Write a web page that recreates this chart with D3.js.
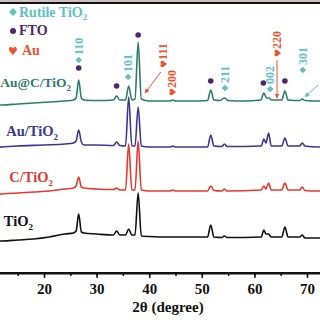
<!DOCTYPE html>
<html>
<head>
<meta charset="utf-8">
<script src="https://cdn.jsdelivr.net/npm/d3@7"></script>
<style>
  html, body { margin: 0; padding: 0; background: #fff; overflow: hidden; }
  svg { display: block; }
</style>
</head>
<body>
<svg id="chart" width="320" height="320"></svg>
<script>
// XRD patterns, [2theta, intensity a.u. above each pattern's own baseline]
const auCTiO2 = [[10,-4],[12,-4],[15,-3],[18,-2],[21,-1],[24,0],[25.6,1],[26.1,3],[26.6,21],[27.1,3],[27.6,1],[30,0.5],[33.2,1],[33.8,5],[34.4,1],[35.5,1],[36.1,15],[36.7,1],[37.3,2],[37.9,59],[38.5,2],[40,0],[44,0],[44.4,1],[45,0],[48,0],[51.1,0.5],[51.7,11],[52.3,1],[53.5,0.5],[54.3,3],[55,0.5],[58,0],[61.2,1],[61.8,8],[62.3,3],[62.7,3],[63.3,1],[65.2,1],[65.8,10],[66.4,1],[68.6,0.5],[69.1,2],[69.6,0.5],[72,0],[80,0]];
const auTiO2 = [[10,-1],[12,0],[15,1],[20,2],[24,3],[25.6,4],[26.1,6],[26.6,17],[27.1,5],[27.6,2],[30,2],[33.2,1.5],[33.8,5],[34.4,1.5],[35.5,1],[36.1,50],[36.7,1],[37.3,1],[37.9,40],[38.5,1],[40,0],[44,0],[44.4,1],[45,0],[51.1,0],[51.7,12],[52.3,1],[53.8,0.5],[54.3,3],[54.8,0.5],[61.3,1],[61.8,8],[62.2,4],[62.7,14],[63.2,1],[65.2,1],[65.8,9],[66.4,1],[68.6,1],[69.1,4],[69.6,1],[72,0],[80,0]];
const cTiO2 = [[10,-4],[12,-3],[15,-2],[18,-1],[21,0],[24,2],[25.6,3],[26.1,5],[26.6,14],[27.1,4],[27.6,3],[30,2],[33.2,1.5],[33.8,3],[34.4,1],[35.5,1],[36.1,47],[36.7,1],[37.3,1],[37.9,50],[38.5,1],[40,0],[44,0],[44.4,1],[45,0],[51.1,0],[51.7,5],[52.3,0.5],[53.8,0],[54.3,2],[54.8,0],[61.3,1],[61.8,5],[62.2,2],[62.7,8],[63.2,1],[65.2,1],[65.8,8],[66.4,1],[68.6,1],[69.1,4],[69.6,0.5],[72,0],[80,0]];
const tiO2 = [[10,-4],[12,-4],[15,-3],[18,-2],[21,0],[24,3],[25.6,4],[26.1,6],[26.6,23],[27.1,5],[27.6,4],[30,3],[33.2,2],[33.8,6],[34.4,2],[35.5,2],[36.1,8],[36.7,2],[37.3,2],[37.9,44],[38.5,1],[40,0.5],[44,0],[45,0],[51.1,0],[51.7,12],[52.3,0],[53.8,-0.5],[54.3,1],[54.8,-0.5],[61.3,0],[61.8,7],[62.2,3],[62.7,3],[63.2,0],[65.2,0],[65.8,10],[66.4,0],[68.6,0],[69.1,2],[69.6,-1],[72,-1],[80,-1]];

const seriesNames = ["Au@C/TiO", "Au/TiO", "C/TiO", "TiO"];
const seriesData = [auCTiO2, auTiO2, cTiO2, tiO2];
const seriesShift = [172, 126, 82, 36];
const seriesColors = ["#2b7d6a", "#3b3792", "#e6392e", "#111111"];

// peak annotations: 2theta, label, marker height (a.u.)
const rutilePeaks = [[26.6, "110", 213], [36.0, "101", 196], [54.4, "211", 185], [63.0, "002", 184], [69.2, "301", 203]];
const ftoPeaks = [[26.6, 205], [33.8, 187], [37.9, 238], [51.7, 192], [61.7, 190], [65.8, 192]];
const auPeaks = [[42.6, "111", 205], [44.3, "200", 177], [64.3, "220", 216]];

const xTicks = [20, 30, 40, 50, 60, 70];
const minorTicks = d3.range(10, 85, 5);

const serif = "'Liberation Serif','Times New Roman',serif";
const svg = d3.select("#chart");

const x = d3.scaleLinear().domain([10, 80]).range([-8.6, 359.6]);
const y = d3.scaleLinear().domain([0, 270]).range([273, 3]);

// strip above frame
svg.append("rect").attr("x", 0).attr("y", 0).attr("width", 320).attr("height", 2).attr("fill", "#cbbfbf");

// frame
svg.append("rect")
  .attr("x", x(10)).attr("y", y(270))
  .attr("width", x(80) - x(10)).attr("height", y(0) - y(270))
  .attr("fill", "none").attr("stroke", "#111").attr("stroke-width", 2);

// minor ticks
svg.append("g")
  .attr("transform", `translate(0,${y(0)})`)
  .call(d3.axisBottom(x).tickValues(minorTicks).tickSize(3).tickFormat("").tickSizeOuter(0))
  .call(g => g.select(".domain").remove())
  .selectAll("line").attr("stroke", "#111").attr("stroke-width", 1.5);

// major ticks and labels
const xAxis = svg.append("g")
  .attr("transform", `translate(0,${y(0)})`)
  .call(d3.axisBottom(x).tickValues(xTicks).tickSize(5).tickPadding(5).tickSizeOuter(0));
xAxis.select(".domain").attr("stroke", "#111").attr("stroke-width", 2);
xAxis.selectAll("line").attr("stroke", "#111").attr("stroke-width", 1.5);
xAxis.selectAll("text")
  .attr("fill", "#111")
  .style("font", `bold 15px ${serif}`);

svg.append("text")
  .attr("x", 168).attr("y", 312)
  .attr("text-anchor", "middle")
  .attr("fill", "#111")
  .style("font", `bold 15px ${serif}`)
  .text("2θ (degree)");

// patterns
const line = d3.line().curve(d3.curveMonotoneX);
seriesData.forEach((data, i) => {
  svg.append("path")
    .attr("d", line(data.map(d => [x(d[0]), y(d[1] + seriesShift[i])])))
    .attr("fill", "none")
    .attr("stroke", seriesColors[i])
    .attr("stroke-width", 1.6)
    .attr("stroke-linejoin", "round");
});

// series labels
const labelEnd = [71, 58, 53, 33];
const labelRaise = [14, 11, 9, 11];
seriesNames.forEach((name, i) => {
  const t = svg.append("text")
    .attr("x", labelEnd[i])
    .attr("y", y(seriesShift[i]) - labelRaise[i])
    .attr("text-anchor", "end")
    .attr("fill", seriesColors[i])
    .style("font", `bold ${i === 0 ? 13.5 : 14.5}px ${serif}`)
    .text(name);
  t.append("tspan").attr("dy", 4).style("font-size", "9px").text("2");
});

// legend
const rutileColor = "#5fc1c5", ftoColor = "#4d2673", auColor = "#e8552e";
const legend = svg.append("g");
legend.append("path").attr("d", d3.symbol(d3.symbolDiamond2, 40)()).attr("transform", "translate(13,12)").attr("fill", rutileColor);
legend.append("text").attr("x", 19).attr("y", 17).attr("fill", rutileColor).style("font", `bold 14px ${serif}`)
  .text("Rutile TiO").append("tspan").attr("dy", 3).style("font-size", "9px").text("2");
legend.append("circle").attr("cx", 13).attr("cy", 31).attr("r", 3).attr("fill", ftoColor);
legend.append("text").attr("x", 19).attr("y", 35).attr("fill", ftoColor).style("font", `bold 14px ${serif}`).text("FTO");
legend.append("text").attr("x", 13).attr("y", 55).attr("text-anchor", "middle").attr("fill", auColor)
  .style("font", "11px 'DejaVu Sans'").text("♥");
legend.append("text").attr("x", 22).attr("y", 55).attr("fill", auColor).style("font", `bold 14px ${serif}`).text("Au");

// rutile markers
rutilePeaks.forEach(([t, hkl, h]) => {
  const px = x(t), py = y(h);
  svg.append("path").attr("d", d3.symbol(d3.symbolDiamond2, 28)()).attr("transform", `translate(${px},${py})`).attr("fill", rutileColor);
  svg.append("text")
    .attr("transform", `translate(${px + 4},${py - 5}) rotate(-90)`)
    .attr("fill", rutileColor)
    .style("font", `bold 12px ${serif}`)
    .text(hkl);
});

// FTO dots
ftoPeaks.forEach(([t, h]) => {
  svg.append("circle").attr("cx", x(t)).attr("cy", y(h)).attr("r", 2.8).attr("fill", ftoColor);
});

// Au markers
svg.append("defs").selectAll("marker")
  .data([["arrAu", auColor], ["arrRu", rutileColor]])
  .join("marker")
  .attr("id", d => d[0])
  .attr("viewBox", "0 0 10 10").attr("refX", 9).attr("refY", 5)
  .attr("markerWidth", 5).attr("markerHeight", 5).attr("orient", "auto")
  .append("path").attr("d", "M0,0L10,5L0,10z").attr("fill", d => d[1]);

auPeaks.forEach(([t, hkl, h]) => {
  const px = x(t), py = y(h);
  svg.append("text")
    .attr("transform", `translate(${px + 4},${py}) rotate(-90)`)
    .attr("fill", auColor)
    .style("font", `bold 12px ${serif}`)
    .text("")
    .call(s => s.append("tspan").style("font", "9px 'DejaVu Sans'").text("♥"))
    .call(s => s.append("tspan").text(hkl));
});

// arrows to Au peaks
svg.append("line").attr("x1", x(42.2)).attr("y1", 72).attr("x2", x(39.2)).attr("y2", 93)
  .attr("stroke", auColor).attr("stroke-width", 1).attr("marker-end", "url(#arrAu)");
svg.append("line").attr("x1", x(64.3)).attr("y1", 60).attr("x2", x(64.3)).attr("y2", 98)
  .attr("stroke", auColor).attr("stroke-width", 1).attr("marker-end", "url(#arrAu)");
svg.append("line").attr("x1", x(72.1)).attr("y1", 85).attr("x2", x(69.6)).attr("y2", 97)
  .attr("stroke", rutileColor).attr("stroke-width", 1).attr("marker-end", "url(#arrRu)");
</script>
</body>
</html>
